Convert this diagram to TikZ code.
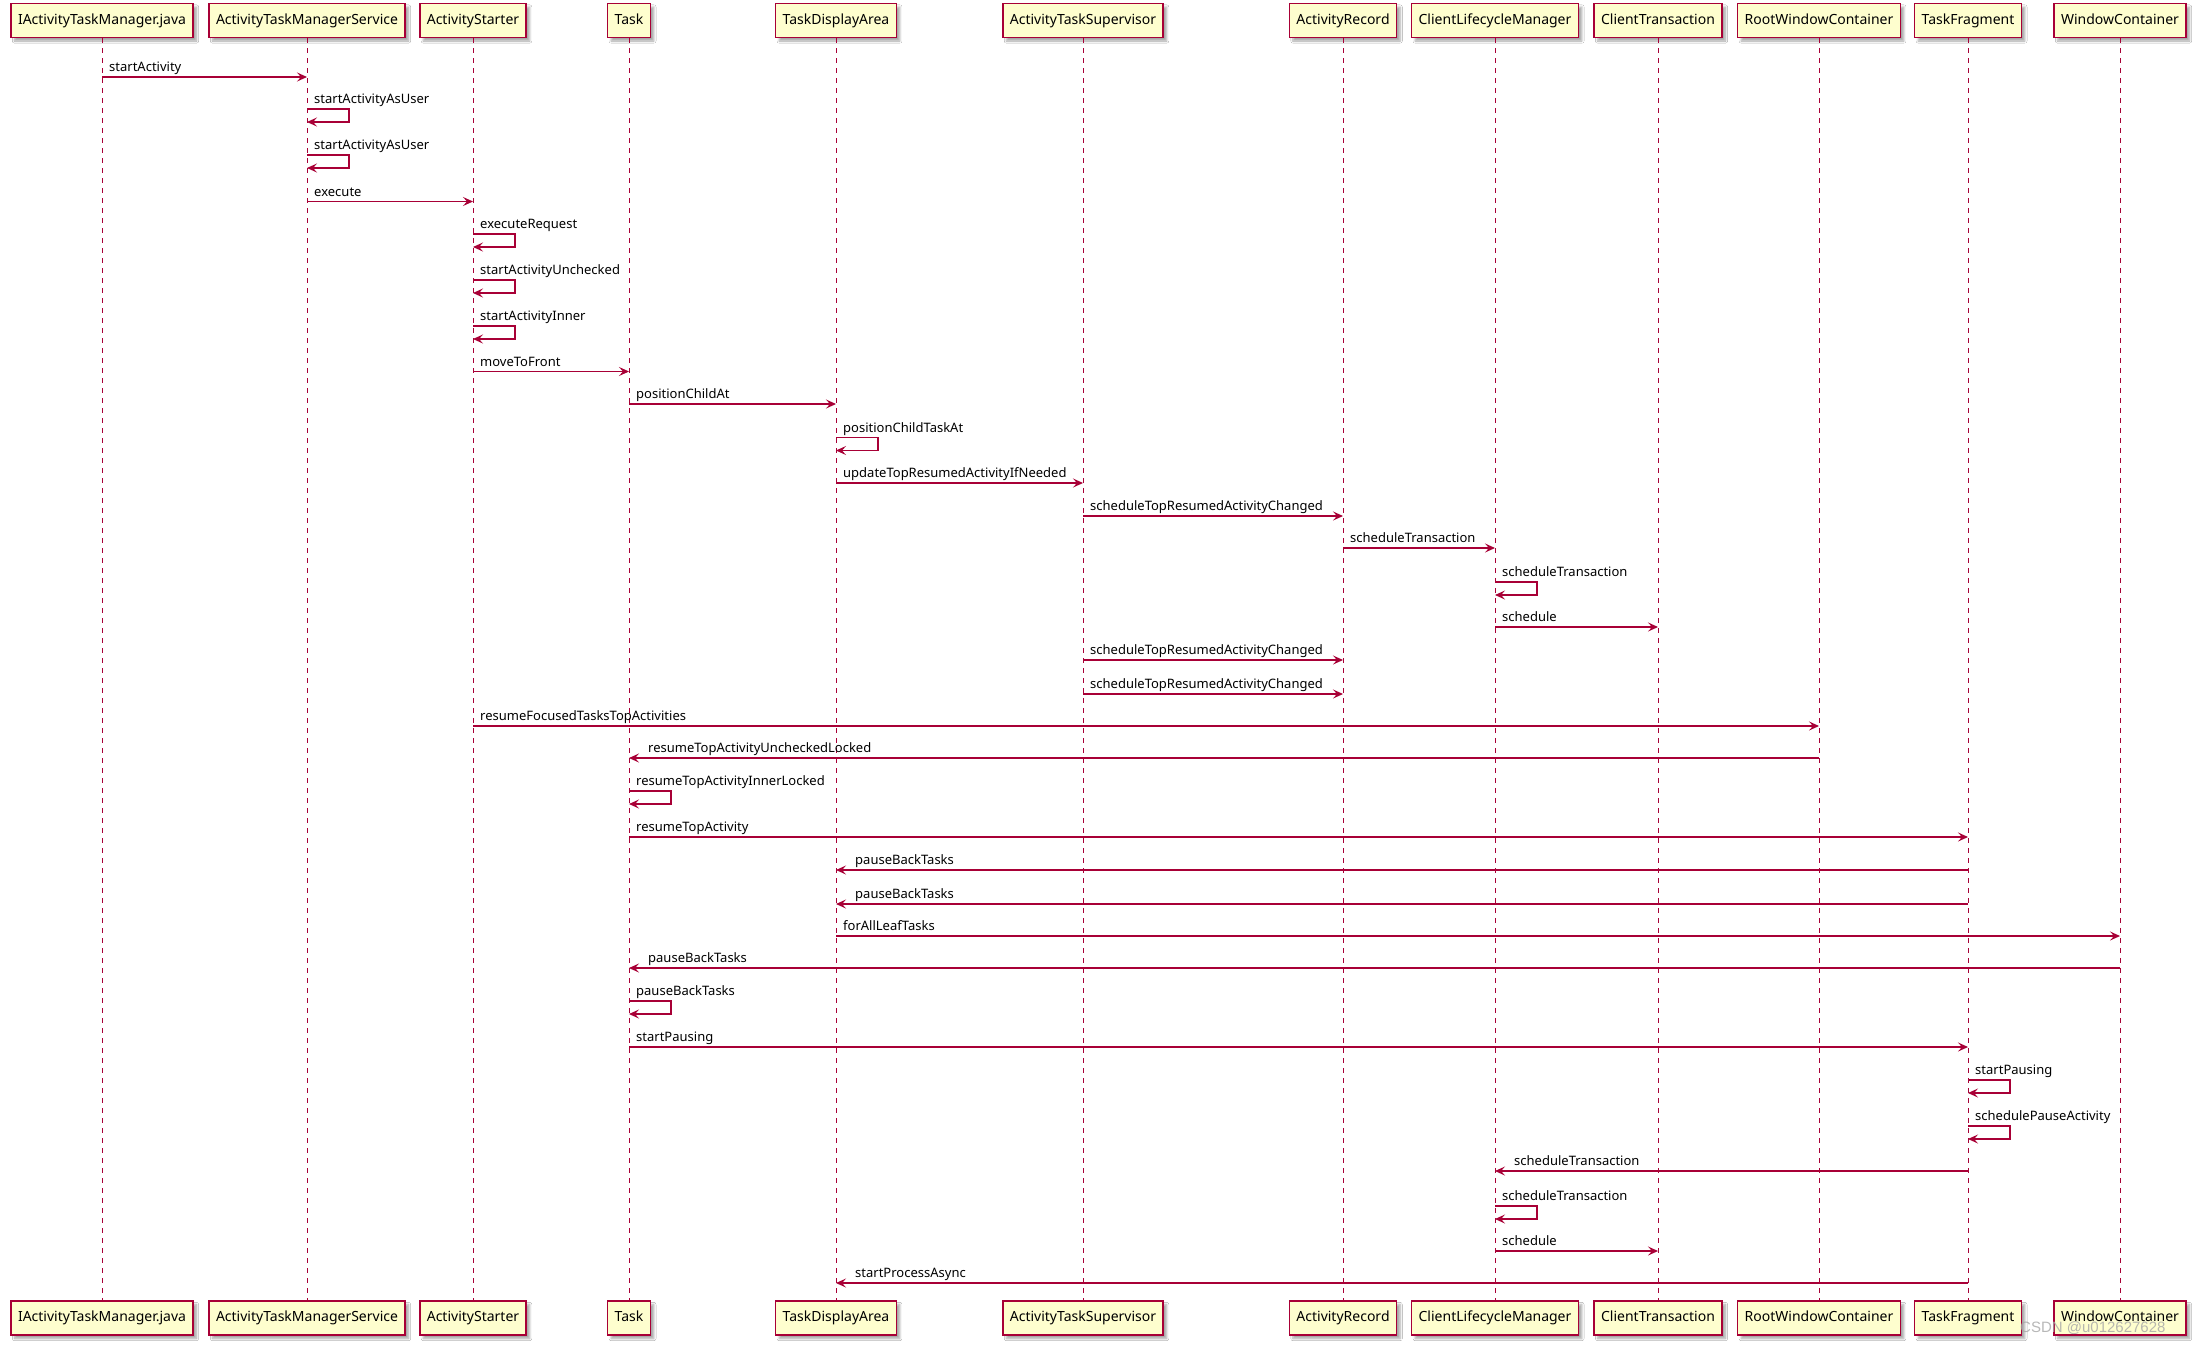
\documentclass[tikz,border=0pt]{standalone}
\usepackage{fontspec}
\setmainfont{Noto Sans}
\newfontfamily\wmfont{Liberation Sans}
\usetikzlibrary{arrows.meta,shadows.blur}
\definecolor{pcrim}{HTML}{A80036}
\definecolor{pfill}{HTML}{FEFECE}
\tikzset{
  part/.style={draw=pcrim, line width=1.4pt, fill=pfill, minimum height=34pt, inner xsep=7pt, inner ysep=0pt,
    text height=10.5pt, text depth=3.5pt,
    font=\fontsize{14}{16}\selectfont, text=black,
    blur shadow={shadow xshift=3.5pt, shadow yshift=-3.5pt, shadow blur steps=6, shadow opacity=35}},
  life/.style={draw=pcrim, line width=0.9pt, dash pattern=on 5pt off 5pt},
  msg/.style={draw=pcrim, line width=1.1pt, -{Stealth[length=10pt,width=9pt,inset=4pt]}},
  lbl/.style={font=\fontsize{13}{15}\selectfont, text=black, inner sep=0pt, anchor=base west},
}
% #1 name, #2 from, #3 to, #4 y, #5 label  (left to right)
\newcommand\msgLR[5]{%
  \coordinate (#1y) at (0,#4);
  \draw[msg] (#2 |- #1y) -- (#3 |- #1y);
  \node[lbl] (#1) at ([xshift=7pt,yshift=5.5pt]#2 |- #1y) {#5};}
% right to left: #2 from (right), #3 to (left)
\newcommand\msgRL[5]{%
  \coordinate (#1y) at (0,#4);
  \draw[msg] (#2 |- #1y) -- (#3 |- #1y);
  \node[lbl] (#1) at ([xshift=19pt,yshift=5.5pt]#3 |- #1y) {#5};}
% self message: #2 who, #3 y, #4 label
\newcommand\msgSelf[4]{%
  \coordinate (#1y) at (0,#3);
  \draw[msg] (#2 |- #1y) -- ++(42,0) -- ++(0,13) -- ++(-42,0);
  \node[lbl] (#1) at ([xshift=7pt,yshift=5.5pt]#2 |- #1y) {#4};}
\begin{document}
\begin{tikzpicture}[x=1pt,y=-1pt]
\useasboundingbox[fill=white] (0,0) rectangle (2194,1344);
% participants
\foreach \n/\t/\x in {iatm/IActivityTaskManager.java/102, atms/ActivityTaskManagerService/307,
  as/ActivityStarter/473, task/Task/629, tda/TaskDisplayArea/836, ats/ActivityTaskSupervisor/1083,
  ar/ActivityRecord/1343, clm/ClientLifecycleManager/1495, ct/ClientTransaction/1658,
  rwc/RootWindowContainer/1819, tf/TaskFragment/1968, wc/WindowContainer/2120}{
  \node[part] (\n) at (\x,20.5) {\t};
  \node[part] (\n B) at (\x,1318) {\t};
  \draw[life] (\n.south) -- (\n B.north);
}
\msgLR{m1}{iatm}{atms}{77}{startActivity}
\msgSelf{m2}{atms}{109}{startActivityAsUser}
\msgSelf{m3}{atms}{155}{startActivityAsUser}
\msgLR{m4}{atms}{as}{201.5}{execute}
\msgSelf{m5}{as}{234}{executeRequest}
\msgSelf{m6}{as}{280}{startActivityUnchecked}
\msgSelf{m7}{as}{326}{startActivityInner}
\msgLR{m8}{as}{task}{371.5}{moveToFront}
\msgLR{m9}{task}{tda}{404}{positionChildAt}
\msgSelf{m10}{tda}{437.5}{positionChildTaskAt}
\msgLR{m11}{tda}{ats}{483}{updateTopResumedActivityIfNeeded}
\msgLR{m12}{ats}{ar}{516}{scheduleTopResumedActivityChanged}
\msgLR{m13}{ar}{clm}{548}{scheduleTransaction}
\msgSelf{m14}{clm}{582}{scheduleTransaction}
\msgLR{m15}{clm}{ct}{627}{schedule}
\msgLR{m16}{ats}{ar}{660}{scheduleTopResumedActivityChanged}
\msgLR{m17}{ats}{ar}{694}{scheduleTopResumedActivityChanged}
\msgLR{m18}{as}{rwc}{726}{resumeFocusedTasksTopActivities}
\msgRL{m19}{rwc}{task}{758}{resumeTopActivityUncheckedLocked}
\msgSelf{m20}{task}{791}{resumeTopActivityInnerLocked}
\msgLR{m21}{task}{tf}{837}{resumeTopActivity}
\msgRL{m22}{tf}{tda}{870}{pauseBackTasks}
\msgRL{m23}{tf}{tda}{904}{pauseBackTasks}
\msgLR{m24}{tda}{wc}{936}{forAllLeafTasks}
\msgRL{m25}{wc}{task}{968}{pauseBackTasks}
\msgSelf{m26}{task}{1001}{pauseBackTasks}
\msgLR{m27}{task}{tf}{1047}{startPausing}
\msgSelf{m28}{tf}{1080}{startPausing}
\msgSelf{m29}{tf}{1126}{schedulePauseActivity}
\msgRL{m30}{tf}{clm}{1171}{scheduleTransaction}
\msgSelf{m31}{clm}{1206}{scheduleTransaction}
\msgLR{m32}{clm}{ct}{1251}{schedule}
\msgRL{m33}{tf}{tda}{1283}{startProcessAsync}
% watermark
\node[font=\wmfont\fontsize{15}{17}\selectfont, text=gray!70, opacity=0.8, anchor=base west, inner sep=0pt] (wm) at (2020,1332) {CSDN @u012627628};
\end{tikzpicture}
\end{document}
